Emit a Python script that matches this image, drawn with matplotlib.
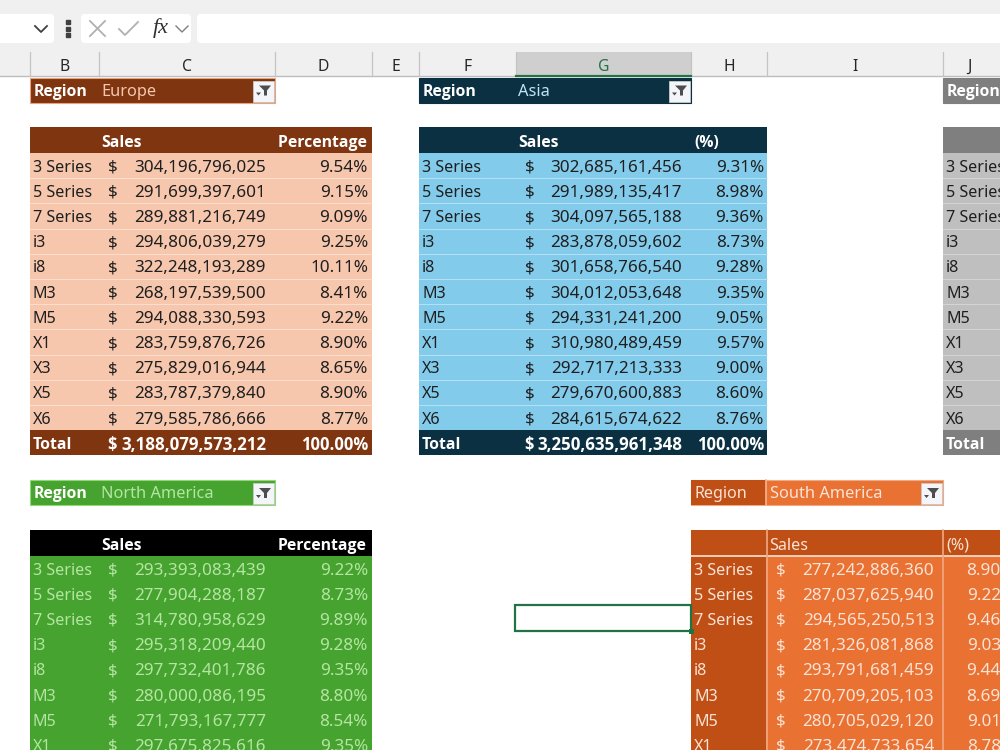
import matplotlib
matplotlib.use("Agg")
import matplotlib.pyplot as plt
from matplotlib.patches import Rectangle, Polygon, FancyBboxPatch

plt.rcParams['font.family'] = ['Noto Sans', 'DejaVu Sans']
FS = 11.6
FS_NUM = 12.3
BOLD_FAMILY = ['Open Sans', 'DejaVu Sans']

models = ["3 Series", "5 Series", "7 Series", "i3", "i8", "M3", "M5", "X1", "X3", "X5", "X6"]
europe_sales = ["304,196,796,025", "291,699,397,601", "289,881,216,749", "294,806,039,279", "322,248,193,289",
                "268,197,539,500", "294,088,330,593", "283,759,876,726", "275,829,016,944", "283,787,379,840", "279,585,786,666"]
europe_pct = ["9.54%", "9.15%", "9.09%", "9.25%", "10.11%", "8.41%", "9.22%", "8.90%", "8.65%", "8.90%", "8.77%"]
asia_sales = ["302,685,161,456", "291,989,135,417", "304,097,565,188", "283,878,059,602", "301,658,766,540",
              "304,012,053,648", "294,331,241,200", "310,980,489,459", "292,717,213,333", "279,670,600,883", "284,615,674,622"]
asia_pct = ["9.31%", "8.98%", "9.36%", "8.73%", "9.28%", "9.35%", "9.05%", "9.57%", "9.00%", "8.60%", "8.76%"]
na_sales = ["293,393,083,439", "277,904,288,187", "314,780,958,629", "295,318,209,440", "297,732,401,786",
            "280,000,086,195", "271,793,167,777", "297,675,825,616"]
na_pct = ["9.22%", "8.73%", "9.89%", "9.28%", "9.35%", "8.80%", "8.54%", "9.35%"]
sa_sales = ["277,242,886,360", "287,037,625,940", "294,565,250,513", "281,326,081,868", "293,791,681,459",
            "270,709,205,103", "280,705,029,120", "273,474,733,654"]
sa_pct = ["8.90%", "9.22%", "9.46%", "9.03%", "9.44%", "8.69%", "9.01%", "8.78%"]
col_letters = ["B", "C", "D", "E", "F", "G", "H", "I", "J"]
col_edges = [30, 99, 275, 372, 419, 516, 691, 767, 943, 1043]

fig = plt.figure(figsize=(10, 7.5), dpi=100, facecolor="white")
ax = fig.add_axes([0, 0, 1, 1])
ax.set_xlim(0, 1000)
ax.set_ylim(750, 0)
ax.axis("off")


def rect(x0, y0, x1, y1, fc, ec="none", lw=0, z=1):
    r = Rectangle((x0, y0), x1 - x0, y1 - y0, fc=fc, ec=ec, lw=lw, zorder=z)
    ax.add_patch(r)
    return r


def put(x, y, s, color, bold=False, ha="left", clip=None, size=FS):
    kw = {"family": BOLD_FAMILY, "fontweight": "bold"} if bold else {}
    t = ax.text(x, y, s, color=color, ha=ha, va="center_baseline", fontsize=size, zorder=5, **kw)
    if clip is not None:
        t.set_clip_path(clip)
        t.set_clip_on(True)
    return t


def filter_button(x, y):
    rect(x, y, x + 21, y + 21, "#f4f5f8", "#c8c8c8", 0.6, z=4)
    ax.add_patch(Polygon([(x + 6, y + 5), (x + 18, y + 5), (x + 14, y + 10), (x + 14, y + 15),
                          (x + 11, y + 15), (x + 11, y + 10)], fc="#4d4d4d", ec="none", zorder=5))
    ax.add_patch(Polygon([(x + 3, y + 12), (x + 8, y + 12), (x + 5.5, y + 15)], fc="#4d4d4d", ec="none", zorder=5))


def region_bar(x0, x1, y0, y1, label, value, fc, border, val_color, bold, val_x, btn_x, label_fc=None):
    rect(x0, y0, x1, y1, fc, border, 0.8, z=2)
    if label_fc:
        rect(x0, y0, val_x - 4, y1, label_fc, z=3)
        ax.plot([val_x - 4, val_x - 4], [y0, y1], color="#f3b48f", lw=1.2, zorder=4)
    put(x0 + 4, (y0 + y1) / 2, label, "white" if bold else "#fbe3d6", bold=bold, size=FS - 0.3 if bold else FS)
    put(val_x, (y0 + y1) / 2, value, val_color, size=11.8)
    filter_button(btn_x, y0 + 3)


def table(x0, x1, y0, sales, pct, head_fc, row_fc, text_c, head2, dollar_x, num_x, pct_x, sep=None, total=None,
          total_fc=None, pct_hx=None, head3=None, head_edge=None):
    rh = 25.2
    rect(x0, y0, x1, y0 + 26, head_fc, z=2)
    clip = Rectangle((x0, y0), x1 - x0, 26, transform=ax.transData)
    yc = y0 + 14
    put(dollar_x - 7, yc, head2, "white", bold=True, size=FS - 0.3)
    put(pct_hx, yc, head3, "white", bold=True, clip=clip, size=FS - 0.3)
    n = len(sales)
    y = y0 + 26
    rect(x0, y, x1, y + rh * n, row_fc, z=1)
    for i in range(n):
        ym = y + rh * (i + .5)
        if sep and i:
            ax.plot([x0, x1], [y + rh * i] * 2, color=sep, lw=0.6, zorder=2)
        put(x0 + 3, ym, models[i], text_c)
        put(dollar_x, ym, "$", text_c, size=FS_NUM)
        put(num_x, ym, sales[i], text_c, ha="right", size=FS_NUM)
        put(pct_x, ym, pct[i], text_c, ha="right", size=FS_NUM)
    if total:
        ty = y + rh * n
        rect(x0, ty, x1, ty + rh, total_fc, z=2)
        ym = ty + rh / 2 + 0.5
        put(x0 + 3, ym, "Total", "white", bold=True, size=FS - 0.3)
        put(dollar_x - 1, ym, "$", "white", bold=True, size=FS_NUM - 0.4)
        put(num_x, ym, total[0], "white", bold=True, ha="right", size=FS_NUM - 0.1)
        put(pct_x, ym, total[1], "white", bold=True, ha="right", size=FS_NUM - 0.4)


# ribbon / formula bar
rect(0, 0, 1000, 52, "#f0f0f0")
ax.add_patch(FancyBboxPatch((-20, 14), 74, 29, boxstyle="round,pad=0,rounding_size=4", fc="white", ec="none", zorder=2))
ax.add_patch(FancyBboxPatch((81, 14), 110, 29, boxstyle="round,pad=0,rounding_size=4", fc="white", ec="none", zorder=2))
ax.add_patch(FancyBboxPatch((197, 14), 840, 29, boxstyle="round,pad=0,rounding_size=4", fc="white", ec="none", zorder=2))
ax.plot([35, 41, 47], [26, 32, 26], color="#404040", lw=1.3, zorder=3)
ax.plot([67.5] * 3, [22, 28.5, 35], ls="none", marker="s", ms=2.8, color="#404040", zorder=3)
ax.plot([90, 105], [21, 36], color="#b0b0b0", lw=1.3, zorder=3)
ax.plot([90, 105], [36, 21], color="#b0b0b0", lw=1.3, zorder=3)
ax.plot([119, 125, 138], [29, 35, 22], color="#b0b0b0", lw=1.3, zorder=3)
ax.text(161, 28.5, "fx", family="Liberation Serif", style="italic", fontsize=16, color="#303030", ha="center",
        va="center", zorder=3)
ax.plot([176, 182, 188], [26, 32, 26], color="#808080", lw=1.0, zorder=3)

# column headers
rect(0, 52, 1000, 76, "#f0f0f0")
rect(516, 52, 691, 76, "#cfcfcf", z=2)
ax.plot([0, 1000], [76.3, 76.3], color="#bdbdbd", lw=1.0, zorder=3)
ax.plot([516, 691], [75.8, 75.8], color="#217346", lw=1.6, zorder=4)
for e in col_edges[:-1]:
    ax.plot([e, e], [52, 76], color="#c4c4c4", lw=0.9, zorder=3)
for i, c in enumerate(col_letters):
    put((col_edges[i] + min(col_edges[i + 1], 1020)) / 2 - (0 if i < 8 else 12), 65, c,
        "#217346" if c == "G" else "#262626", ha="center", size=11.3)

# Europe
region_bar(30, 275, 77.5, 102.5, "Region", "Europe", "#7f3510", "#e9a27c", "#f6c6ad", True, 101, 253)
table(30, 372, 127, europe_sales, europe_pct, "#7f3510", "#f6c6ad", "#1f1f1f", "Sales", 108, 266, 368, sep="#fbe3d6",
      total=("3,188,079,573,212", "100.00%"), total_fc="#7f3510", pct_hx=278, head3="Percentage  %")
# Asia
region_bar(419, 691, 77.5, 102.5, "Region", "Asia", "#0b3041", "#0b3041", "#c0e4f5", True, 518, 669)
table(419, 767, 127, asia_sales, asia_pct, "#0b3041", "#83cbeb", "#1f1f1f", "Sales", 525, 682, 764, sep="#c0e4f5",
      total=("3,250,635,961,348", "100.00%"), total_fc="#0b3041", pct_hx=694, head3="(%)")
# Gray, clipped by the right edge
region_bar(943, 1043, 77.5, 102.5, "Region", "", "#7f7f7f", "#7f7f7f", "#d9d9d9", True, 1010, 1060)
table(943, 1043, 127, ["" for _ in models], ["" for _ in models], "#7f7f7f", "#bfbfbf", "#1f1f1f", "", 1100, 1200, 1300,
      sep="#d9d9d9", total=("", ""), total_fc="#7f7f7f", pct_hx=1300, head3="")
# North America
region_bar(30, 275, 480, 505, "Region", "North America", "#47a32f", "#8ed973", "#b4e5a2", True, 101, 253)
table(30, 372, 530, na_sales, na_pct, "#000000", "#47a32f", "#b4e5a2", "Sales", 108, 266, 368,
      pct_hx=278, head3="Percentage")
# South America
region_bar(691, 943, 480, 505, "Region", "South America", "#e97132", "#f1a983", "#fbe3d6", False, 770, 921,
           label_fc="#c04f15")
table(691, 1043, 530, sa_sales, sa_pct, "#c04f15", "#e97132", "#fbe3d6", "", 776, 934, 1015, pct_hx=1100, head3="")
rect(691, 556, 766, 750, "#c04f15", z=2)
ax.plot([691, 1000], [555.5, 555.5], color="#fbe3d6", lw=1.2, zorder=4)
for xv in (767, 943):
    ax.plot([xv, xv], [530, 750], color="#f1a983", lw=1.2, zorder=4)
put(769, 544, "Sales", "#fbe3d6")
put(946, 544, "(%)", "#fbe3d6")

# selected cell
rect(515, 605, 691, 631, "white", "#217346", 1.6, z=6)
rect(689, 629, 694, 634, "#217346", z=7)

fig.savefig("out.png", dpi=100)
